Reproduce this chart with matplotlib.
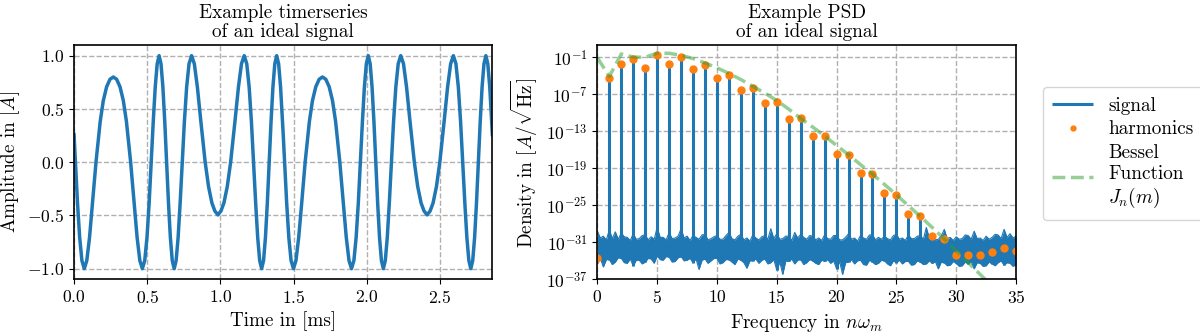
import numpy as np
import matplotlib
matplotlib.use("Agg")
import matplotlib.pyplot as plt
from matplotlib.ticker import FixedLocator, NullLocator

plt.rcParams.update({
    "font.family": "serif",
    "font.serif": ["cmr10"],
    "mathtext.fontset": "cm",
    "axes.formatter.use_mathtext": True,
    "axes.linewidth": 1.2,
})

# ---------------- left panel: time series ----------------
time_ms = [
    0.0000, 0.0093, 0.0236, 0.0384, 0.0537, 0.0699, 0.0871, 0.1058, 0.1263, 0.1499,
    0.1788, 0.1999, 0.2224, 0.2453, 0.2682, 0.2912, 0.3141, 0.3366, 0.3577, 0.3866,
    0.4102, 0.4307, 0.4494, 0.4666, 0.4828, 0.4982, 0.5129, 0.5272, 0.5410, 0.5546,
    0.5679, 0.5809, 0.5939, 0.6067, 0.6195, 0.6322, 0.6450, 0.6579, 0.6708, 0.6839,
    0.6972, 0.7108, 0.7247, 0.7389, 0.7537, 0.7692, 0.7854, 0.8028, 0.8215, 0.8422,
    0.8661, 0.8956, 0.9186, 0.9416, 0.9615, 0.9825, 1.0036, 1.0235, 1.0465, 1.0695,
    1.0990, 1.1229, 1.1436, 1.1623, 1.1796, 1.1959, 1.2113, 1.2261, 1.2404, 1.2543,
    1.2679, 1.2812, 1.2943, 1.3072, 1.3201, 1.3328, 1.3456, 1.3584, 1.3712, 1.3841,
    1.3972, 1.4105, 1.4241,
    1.4286, 1.4379, 1.4522, 1.4669, 1.4823, 1.4985, 1.5157, 1.5343, 1.5549, 1.5784,
    1.6074, 1.6284, 1.6509, 1.6739, 1.6968, 1.7197, 1.7427, 1.7652, 1.7863, 1.8152,
    1.8388, 1.8593, 1.8779, 1.8951, 1.9113, 1.9267, 1.9415, 1.9557, 1.9696, 1.9831,
    1.9964, 2.0095, 2.0224, 2.0353, 2.0481, 2.0608, 2.0736, 2.0864, 2.0994, 2.1125,
    2.1258, 2.1393, 2.1532, 2.1675, 2.1823, 2.1978, 2.2140, 2.2313, 2.2501, 2.2708,
    2.2946, 2.3241, 2.3471, 2.3702, 2.3901, 2.4111, 2.4321, 2.4521, 2.4751, 2.4981,
    2.5276, 2.5514, 2.5722, 2.5909, 2.6082, 2.6245, 2.6399, 2.6547, 2.6690, 2.6829,
    2.6965, 2.7098, 2.7229, 2.7358, 2.7486, 2.7614, 2.7742, 2.7869, 2.7998, 2.8127,
    2.8258, 2.8391, 2.8526, 2.8571,
]
amplitude = [
    0.259, 0.0, -0.383, -0.707, -0.924, -1.0, -0.924, -0.707, -0.383, 0.0,
    0.383, 0.578, 0.707, 0.778, 0.8, 0.778, 0.707, 0.578, 0.383, 0.0,
    -0.383, -0.707, -0.924, -1.0, -0.924, -0.707, -0.383, 0.0, 0.383, 0.707,
    0.924, 1.0, 0.924, 0.707, 0.383, 0.0, -0.383, -0.707, -0.924, -1.0,
    -0.924, -0.707, -0.383, 0.0, 0.383, 0.707, 0.924, 1.0, 0.924, 0.707,
    0.383, 0.0, -0.229, -0.383, -0.458, -0.495, -0.458, -0.383, -0.229, 0.0,
    0.383, 0.707, 0.924, 1.0, 0.924, 0.707, 0.383, 0.0, -0.383, -0.707,
    -0.924, -1.0, -0.924, -0.707, -0.383, 0.0, 0.383, 0.707, 0.924, 1.0,
    0.924, 0.707, 0.383,
    0.259, 0.0, -0.383, -0.707, -0.924, -1.0, -0.924, -0.707, -0.383, 0.0,
    0.383, 0.578, 0.707, 0.778, 0.8, 0.778, 0.707, 0.578, 0.383, 0.0,
    -0.383, -0.707, -0.924, -1.0, -0.924, -0.707, -0.383, 0.0, 0.383, 0.707,
    0.924, 1.0, 0.924, 0.707, 0.383, 0.0, -0.383, -0.707, -0.924, -1.0,
    -0.924, -0.707, -0.383, 0.0, 0.383, 0.707, 0.924, 1.0, 0.924, 0.707,
    0.383, 0.0, -0.229, -0.383, -0.458, -0.495, -0.458, -0.383, -0.229, 0.0,
    0.383, 0.707, 0.924, 1.0, 0.924, 0.707, 0.383, 0.0, -0.383, -0.707,
    -0.924, -1.0, -0.924, -0.707, -0.383, 0.0, 0.383, 0.707, 0.924, 1.0,
    0.924, 0.707, 0.383, 0.259,
]
time_ticks = [0.0, 0.5, 1.0, 1.5, 2.0, 2.5]
amp_ticks = [-1.0, -0.5, 0.0, 0.5, 1.0]

# ---------------- right panel: PSD (log10 values) ----------------
harmonic_n = list(range(36))
harmonic_log10 = [
    -33.6, -4.4, -2.14, -1.22, -2.68, -0.63, -2.03, -0.9, -2.9, -2.2,
    -4.35, -3.8, -6.25, -5.9, -8.46, -8.25, -11.0, -10.9, -13.7, -13.75,
    -16.7, -16.8, -19.75, -19.96, -23.0, -23.3, -26.4, -26.8, -30.05, -30.45,
    -33.0, -33.05, -33.1, -32.55, -31.9, -32.35,
]
bessel_n = list(range(34))
bessel_log10 = [
    -1.05, -4.1, -0.45, -0.95, -1.0, -0.32, -0.34, -0.66, -1.2, -1.9,
    -2.7, -3.6, -4.6, -5.7, -6.8, -8.0, -9.4, -10.9, -12.3, -13.75,
    -15.3, -16.8, -18.4, -19.96, -21.6, -23.3, -25.05, -26.8, -28.6, -30.45,
    -32.4, -34.3, -36.2, -38.1,
]
# noise floor envelope of the PSD, sampled every 0.25 (in units of omega_m)
noise_freq = [i * 0.25 for i in range(141)]
noise_upper_log10 = [
    -29.2, -30.3, -30.0, -30.6, -29.0, -30.4, -29.3, -30.5, -29.5, -30.1,
    -30.2, -30.7, -29.6, -30.5, -30.4, -29.9, -29.8, -30.6, -30.1, -30.5,
    -28.6, -30.2, -30.2, -30.6, -29.4, -30.4, -30.3, -30.0, -28.8, -30.3,
    -30.0, -30.7, -29.9, -30.2, -30.5, -29.8, -29.7, -30.6, -30.4, -30.1,
    -29.9, -30.5, -30.5, -29.9, -29.4, -30.4, -30.6, -30.0, -29.7, -30.6,
    -30.3, -30.8, -29.8, -30.3, -30.6, -30.1, -29.9, -30.5, -28.8, -30.4,
    -29.6, -30.5, -30.4, -30.0, -30.0, -30.7, -29.4, -30.3, -29.7, -30.2,
    -30.5, -29.9, -30.0, -30.6, -30.3, -30.7, -29.8, -30.4, -30.5, -29.9,
    -29.9, -30.6, -30.6, -30.2, -29.6, -30.5, -30.3, -30.8, -29.9, -30.3,
    -30.5, -29.8, -29.8, -30.6, -30.2, -30.5, -30.0, -30.4, -30.6, -29.9,
    -29.7, -30.5, -30.3, -30.7, -29.8, -30.4, -30.4, -30.0, -29.9, -30.5,
    -28.6, -30.3, -30.1, -30.6, -30.5, -30.0, -28.9, -30.4, -30.2, -30.7,
    -30.1, -30.5, -30.4, -29.8, -29.9, -30.5, -29.2, -30.4, -30.3, -30.7,
    -30.0, -30.5, -30.2, -29.7, -29.8, -30.4, -28.9, -30.2, -29.6, -30.3,
    -30.0,
]
noise_lower_log10 = [
    -34.3, -33.6, -35.0, -33.8, -33.8, -34.6, -34.2, -33.5, -33.6, -34.3,
    -34.4, -33.7, -34.8, -33.9, -33.9, -34.5, -34.2, -33.6, -33.7, -34.4,
    -33.2, -33.8, -33.9, -33.3, -33.4, -34.2, -34.1, -33.5, -33.3, -34.0,
    -33.9, -33.6, -34.3, -33.7, -35.4, -33.9, -33.7, -34.4, -34.0, -33.6,
    -33.6, -34.5, -34.3, -33.8, -33.8, -34.2, -34.6, -33.7, -33.9, -34.3,
    -35.2, -34.0, -34.0, -33.7, -34.4, -33.9, -33.7, -34.5, -34.3, -33.8,
    -35.5, -34.2, -36.2, -34.0, -34.1, -33.7, -34.5, -33.9, -33.8, -34.6,
    -34.3, -33.8, -34.0, -34.4, -34.6, -33.9, -34.1, -33.8, -34.4, -34.0,
    -35.3, -34.1, -36.2, -34.3, -34.2, -33.8, -34.5, -34.0, -33.9, -34.6,
    -34.7, -33.9, -34.2, -34.6, -34.4, -33.9, -34.0, -34.5, -34.8, -34.0,
    -34.3, -33.9, -34.5, -34.1, -34.1, -34.7, -34.6, -34.0, -34.2, -34.6,
    -34.5, -34.0, -34.4, -34.1, -35.3, -34.2, -34.3, -34.8, -34.7, -34.1,
    -34.4, -34.9, -34.8, -34.2, -34.5, -34.1, -35.3, -34.3, -34.4, -34.9,
    -34.8, -34.2, -34.5, -34.8, -34.3, -34.0, -34.7, -34.3, -34.4, -34.9,
    -34.6,
]
freq_ticks = [0, 5, 10, 15, 20, 25, 30, 35]
density_tick_exp = [-37, -31, -25, -19, -13, -7, -1]

# ---------------- figure ----------------
FS_TEXT = 13.8
FS_TICK = 12.6

fig = plt.figure(figsize=(12, 3.34), dpi=100)
ax1 = fig.add_axes([0.0617, 0.1637, 0.3486, 0.7015])
ax2 = fig.add_axes([0.4978, 0.1637, 0.3489, 0.7015])

grid_kw = dict(color="#b0b0b0", linestyle="--", linewidth=1.0)

ax1.plot(time_ms, amplitude, color="C0", lw=2.5)
ax1.set_xlim(0, 2.857)
ax1.set_ylim(-1.1, 1.1)
ax1.set_xticks(time_ticks)
ax1.set_yticks(amp_ticks)
ax1.grid(True, **grid_kw)
ax1.set_axisbelow(True)
ax1.set_title("Example timerseries\nof an ideal signal", fontsize=FS_TEXT, linespacing=1.05)
ax1.set_xlabel("Time in [ms]", fontsize=FS_TEXT)
ax1.set_ylabel("Amplitude in $[A]$", fontsize=FS_TEXT)

# PSD
lo = 10.0 ** np.array(noise_lower_log10)
hi = 10.0 ** np.array(noise_upper_log10)
ax2.fill_between(noise_freq, lo, hi, color="C0", lw=0)
ax2.plot(noise_freq, hi, color="C0", lw=0.8)
ax2.plot(noise_freq, lo, color="C0", lw=0.8)
spike_base = lo[::4]
ax2.vlines(harmonic_n, spike_base, 10.0 ** np.array(harmonic_log10),
           color="C0", lw=2.2, label="signal")
ax2.plot(harmonic_n, 10.0 ** np.array(harmonic_log10), "o", color="C1",
         ms=5, label="harmonics")
ax2.plot(bessel_n, 10.0 ** np.array(bessel_log10), "--", color="C2", alpha=0.5,
         lw=2.5, label="Bessel\nFunction\n$J_n(m)$")
ax2.set_yscale("log")
ax2.set_xlim(0, 35)
ax2.set_ylim(1e-37, 1e1)
ax2.set_xticks(freq_ticks)
ax2.yaxis.set_major_locator(FixedLocator([10.0 ** e for e in density_tick_exp]))
ax2.yaxis.set_minor_locator(NullLocator())
ax2.grid(True, **grid_kw)
ax2.set_axisbelow(True)
ax2.set_title("Example PSD\nof an ideal signal", fontsize=FS_TEXT, linespacing=1.05)
ax2.set_xlabel("Frequency in $n\\omega_m$", fontsize=FS_TEXT)
ax2.set_ylabel("Density in $[A/\\sqrt{\\mathrm{Hz}}]$", fontsize=FS_TEXT)

for ax in (ax1, ax2):
    ax.tick_params(direction="out", length=3.5, width=0.8, labelsize=FS_TICK)

fig.legend(loc="upper left", bbox_to_anchor=(0.869, 0.7395), borderaxespad=0.0,
           fontsize=FS_TEXT, markerscale=0.7, handlelength=2.1, labelspacing=0.3,
           borderpad=0.5, handletextpad=0.8)

fig.savefig("out.png", dpi=100)
